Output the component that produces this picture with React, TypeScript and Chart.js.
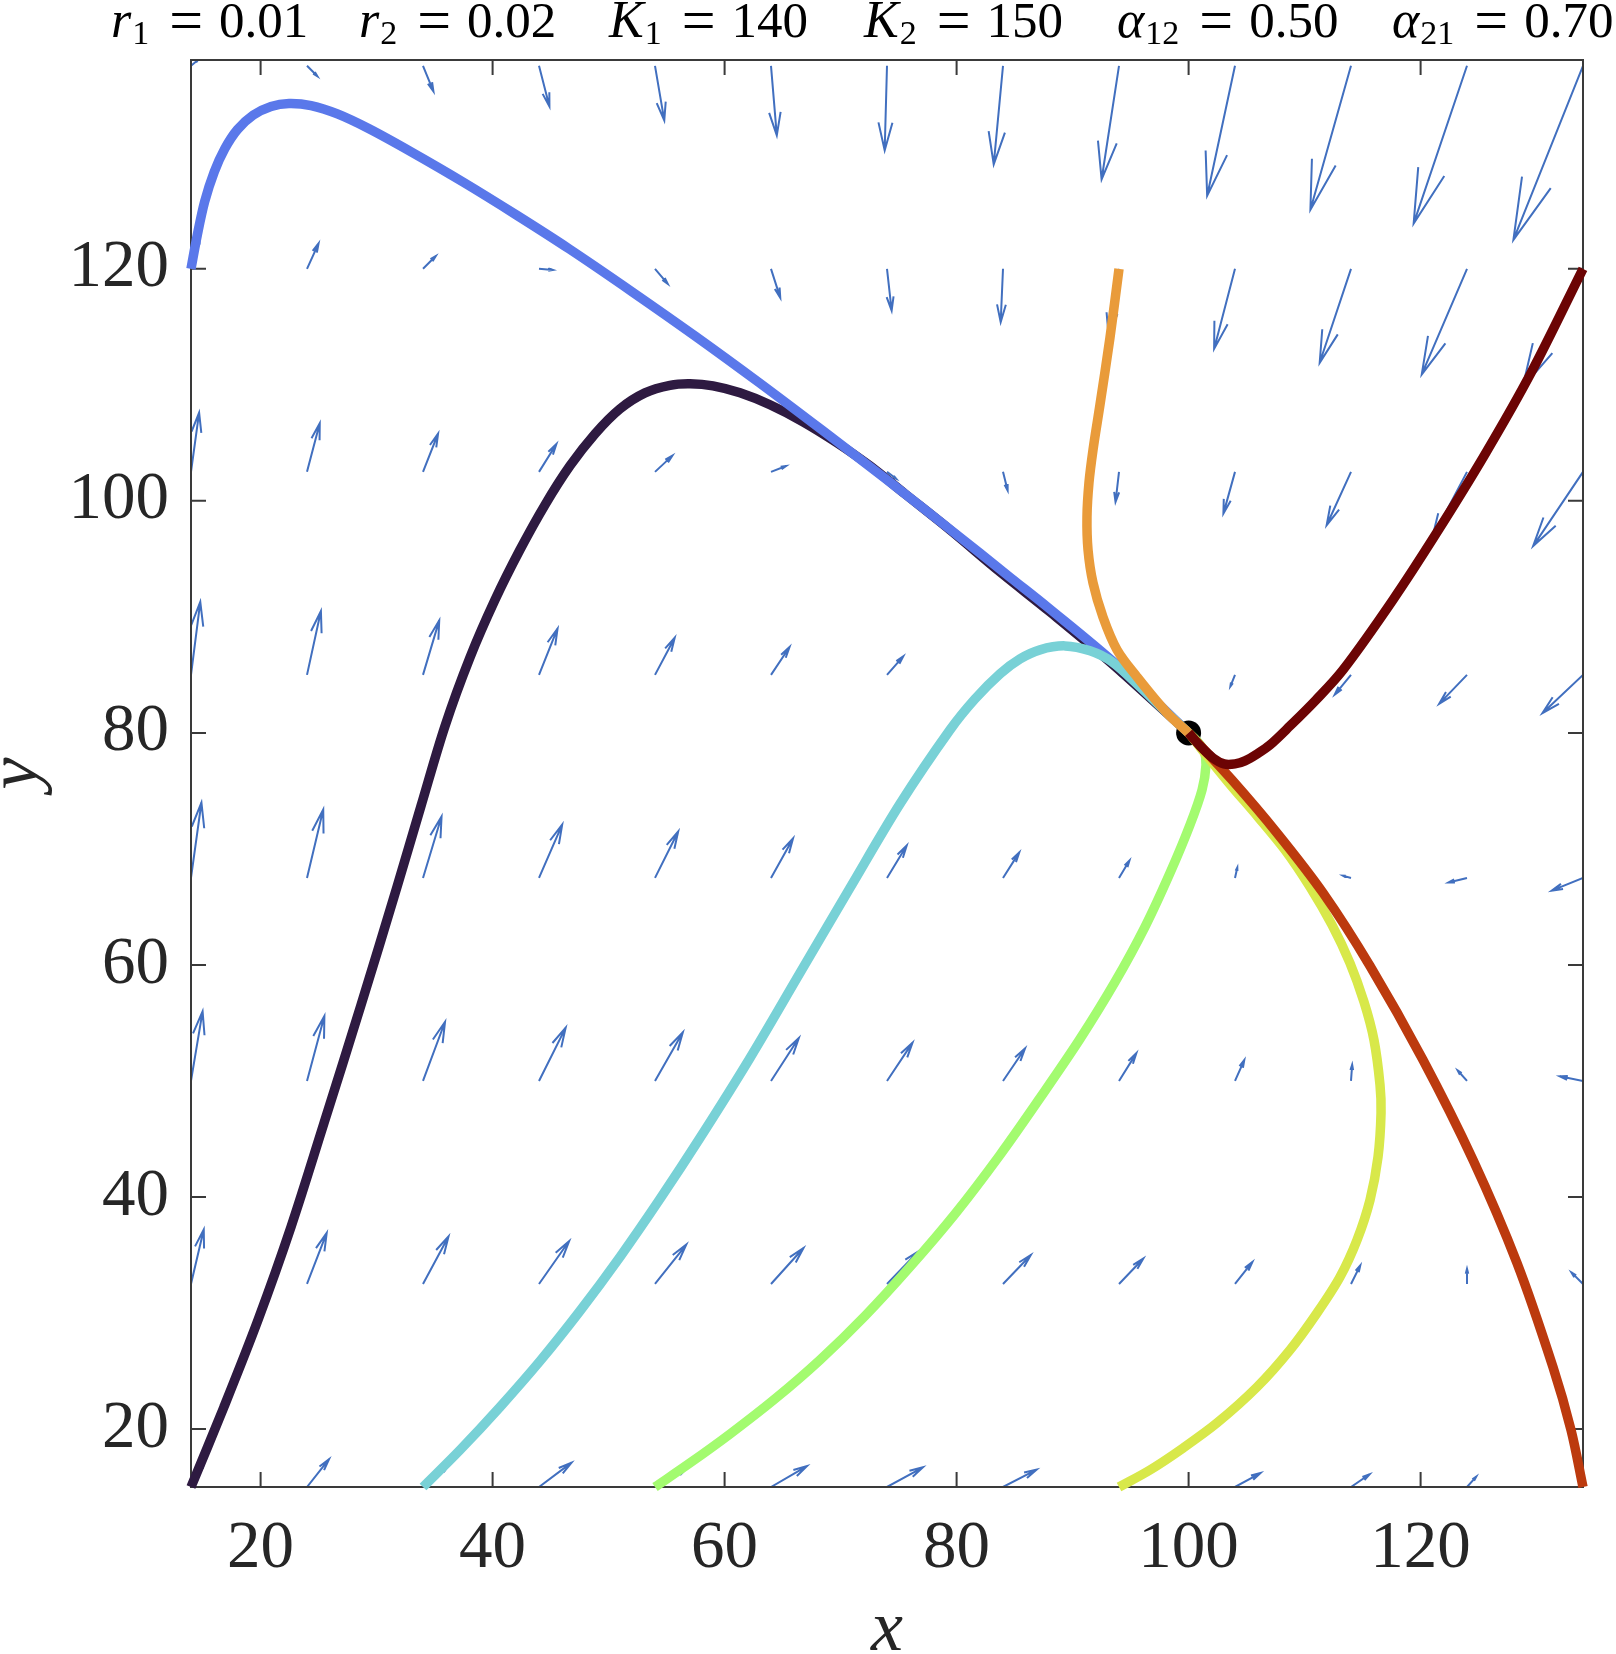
import React, { useRef, useEffect } from 'react'
import Chart from 'chart.js/auto'

const FONT = '"Liberation Serif", serif'

const xTicks = [20, 40, 60, 80, 100, 120]
const yTicks = [20, 40, 60, 80, 100, 120]

// quiver grid, bottom row first
const quiverX = [14, 24, 34, 44, 54, 64, 74, 84, 94, 104, 114, 124, 134]
const quiverY = [15, 32.5, 50, 67.5, 85, 102.5, 120, 137.5]
const quiverU = [
  [1.2, 1.9, 2.4, 2.8, 3, 3.1, 3.1, 2.9, 2.6, 2.2, 1.6, 0.8, -0.1],
  [1.1, 1.7, 2.2, 2.6, 2.7, 2.8, 2.7, 2.4, 2.1, 1.5, 0.8, 0, -1],
  [1, 1.5, 1.9, 2.3, 2.4, 2.4, 2.2, 1.9, 1.5, 0.8, 0.1, -0.8, -2],
  [0.9, 1.4, 1.6, 2, 2, 1.9, 1.7, 1.4, 0.9, 0.2, -0.7, -1.6, -2.7],
  [0.8, 1.2, 1.4, 1.6, 1.7, 1.6, 1.4, 0.8, 0.2, -0.4, -1.4, -2.4, -3.5],
  [0.7, 1.1, 1.3, 1.5, 1.5, 1.3, 0.8, 0.4, -0.3, -1, -2.1, -3, -4.3],
  [0.7, 1, 1.1, 1.2, 1.1, 0.8, 0.4, -0.2, -0.9, -1.8, -2.7, -3.9, -5.2],
  [0.6, 0.9, 0.9, 0.9, 0.8, 0.5, -0.2, -0.8, -1.5, -2.4, -3.5, -4.6, -6],
]
const quiverV = [
  [2.5, 2.4, 2.2, 2.1, 1.9, 1.8, 1.7, 1.5, 1.4, 1.2, 1.1, 0.9, 0.8],
  [4.7, 4.4, 4.1, 3.7, 3.4, 3.1, 2.8, 2.5, 2.2, 1.9, 1.6, 1.3, 1],
  [6, 5.6, 5.1, 4.6, 4.2, 3.7, 3.3, 2.8, 2.4, 1.8, 1.4, 0.9, 0.4],
  [6.5, 5.9, 5.3, 4.6, 4, 3.4, 2.8, 2.2, 1.5, 0.9, 0.2, -0.4, -1.1],
  [6.3, 5.5, 4.7, 4, 3.2, 2.4, 1.6, 0.7, -0.1, -1, -1.7, -2.5, -3.3],
  [5.1, 4.2, 3.3, 2.4, 1.4, 0.5, -0.6, -1.6, -2.6, -3.6, -4.6, -5.7, -6.4],
  [3.2, 2.2, 1.1, -0.1, -1.3, -2.5, -3.6, -4.6, -5.7, -6.9, -8.1, -9.1, -10.2],
  [0.5, -0.9, -2.2, -3.5, -4.7, -6, -7.3, -8.5, -9.8, -11.2, -12.4, -13.6, -15],
]

// trajectories
const navyX = [14, 16.84, 19.78, 22.62, 25.47, 28.66, 31.76, 33.83, 35.9, 38.05, 40.21, 42.36, 44.52, 46.67, 48.83, 50.98, 53.14, 55.29, 57.02, 59, 61.33, 63.91, 66.76, 69.69, 72.53, 75.55, 79.43, 83.74, 88.05, 93.22, 100]
const navyY = [15, 21.9, 29.4, 37.41, 46.38, 56.55, 66.72, 73.71, 80.6, 86.5, 91.47, 95.78, 99.66, 103.02, 105.78, 107.93, 109.31, 109.96, 110.09, 109.91, 109.31, 108.28, 106.81, 105, 103.02, 100.6, 97.5, 93.88, 90.43, 86.12, 80]
const blueX = [14, 14.54, 15.18, 16, 16.91, 18, 19.36, 20.9, 22.45, 24.35, 26.62, 29.35, 32.98, 37.52, 42.07, 46.6, 52.06, 57.5, 62.96, 68.4, 73.85, 79.3, 84.75, 87.84, 93.84, 100]
const blueY = [120, 122.9, 125.8, 128.35, 130.35, 132, 133.25, 134, 134.25, 134.07, 133.35, 132.07, 130.08, 127.44, 124.63, 121.72, 118, 114.18, 110.2, 106.1, 101.92, 97.65, 93.3, 90.84, 85.84, 80]
const tealX = [34, 37.19, 40.64, 44.09, 47.53, 50.98, 54.43, 57.88, 62.19, 66.5, 70.81, 75.12, 79.43, 81.59, 83.74, 85.47, 87.19, 89.34, 91.5, 93.4, 95.81, 98.14, 100]
const tealY = [15, 18.19, 21.9, 25.86, 30.17, 34.83, 39.83, 45.09, 51.98, 59.31, 66.64, 73.88, 80.26, 82.93, 85.09, 86.38, 87.16, 87.5, 87.07, 86.12, 83.97, 81.72, 80]
const greenX = [54, 57.02, 60.47, 64.34, 68.22, 72.1, 75.98, 79.86, 83.74, 87.19, 90.64, 93.66, 96.24, 98.4, 100.12, 101.16, 101.5, 101.33, 100.72, 100]
const greenY = [15, 17.07, 19.57, 22.59, 25.95, 29.74, 33.97, 38.53, 43.62, 48.53, 53.62, 58.53, 63.28, 67.93, 72.07, 75.09, 77.24, 78.45, 79.31, 80]
const yellowX = [94, 96.67, 99.52, 102.45, 105.9, 108.74, 111.07, 113.05, 114.52, 115.64, 116.33, 116.59, 116.5, 115.98, 115.12, 113.91, 112.36, 110.47, 108.31, 105.98, 103.4, 100]
const yellowY = [15, 16.47, 18.36, 20.52, 23.62, 26.81, 30, 33.1, 36.29, 39.74, 43.45, 47.24, 49.66, 53.53, 56.81, 60.17, 63.45, 66.72, 69.91, 72.76, 75.78, 80]
const redX = [134, 132.97, 131.41, 128.31, 124.52, 120.21, 115.64, 111.59, 107.62, 103.74, 100]
const redY = [15, 19.91, 25.34, 34.31, 43.19, 51.81, 59.91, 66.21, 71.38, 75.95, 80]
const orangeX = [94, 93.22, 92.36, 91.76, 91.41, 91.24, 91.33, 91.76, 92.62, 93.83, 95.55, 98.14, 100]
const orangeY = [120, 114.05, 108.28, 104.4, 101.55, 98.62, 95.78, 92.93, 89.98, 87.16, 84.83, 81.72, 80]
const maroonX = [134, 129.52, 125.47, 121.33, 117.62, 113.31, 110.98, 108.74, 107.02, 105.9, 104.86, 104, 103.05, 102.1, 100.98, 100]
const maroonY = [120, 111.03, 103.88, 97.16, 91.47, 85.43, 82.84, 80.6, 78.97, 78.19, 77.59, 77.33, 77.33, 77.84, 78.88, 80]

const equilibriumX = [100]
const equilibriumY = [80]

const titleVars = ['r', 'r', 'K', 'K', 'α', 'α']
const titleSubs = ['1', '2', '1', '2', '12', '21']
const titleVals = ['0.01', '0.02', '140', '150', '0.50', '0.70']
const titleLeft = [111, 359, 609, 864, 1117, 1392]

const zip = (xs: number[], ys: number[]) => xs.map((x, i) => ({ x, y: ys[i] }))

const curve = (xs: number[], ys: number[], color: string, order: number) => ({
  data: zip(xs, ys),
  borderColor: color,
  borderWidth: 9.5,
  borderCapStyle: 'butt' as const,
  borderJoinStyle: 'round' as const,
  pointRadius: 0,
  tension: 0.33,
  capBezierPoints: false,
  clip: false as const,
  order,
})

const quiverPlugin = {
  id: 'quiver',
  beforeDatasetsDraw(chart: any) {
    const { ctx, chartArea, scales } = chart
    const alpha = 0.33
    const beta = 0.25
    ctx.save()
    ctx.beginPath()
    ctx.rect(chartArea.left, chartArea.top, chartArea.width, chartArea.height)
    ctx.clip()
    ctx.strokeStyle = '#416fbf'
    ctx.lineWidth = 2
    quiverY.forEach((y, r) => {
      quiverX.forEach((x, c) => {
        const x0 = scales.x.getPixelForValue(x)
        const y0 = scales.y.getPixelForValue(y)
        const x1 = scales.x.getPixelForValue(x + quiverU[r][c])
        const y1 = scales.y.getPixelForValue(y + quiverV[r][c])
        const u = x1 - x0
        const v = y1 - y0
        ctx.beginPath()
        ctx.moveTo(x0, y0)
        ctx.lineTo(x1, y1)
        ctx.moveTo(x1 - alpha * (u + beta * v), y1 - alpha * (v - beta * u))
        ctx.lineTo(x1, y1)
        ctx.lineTo(x1 - alpha * (u - beta * v), y1 - alpha * (v + beta * u))
        ctx.stroke()
      })
    })
    ctx.restore()
  },
}

// box and inward ticks on all four sides
const framePlugin = {
  id: 'frame',
  beforeDatasetsDraw(chart: any) {
    const { ctx, chartArea: a, scales } = chart
    const len = 15
    ctx.save()
    ctx.strokeStyle = '#3a3a3a'
    ctx.lineWidth = 2
    ctx.strokeRect(a.left, a.top, a.width, a.height)
    ctx.beginPath()
    xTicks.forEach((t) => {
      const p = scales.x.getPixelForValue(t)
      ctx.moveTo(p, a.bottom)
      ctx.lineTo(p, a.bottom - len)
      ctx.moveTo(p, a.top)
      ctx.lineTo(p, a.top + len)
    })
    yTicks.forEach((t) => {
      const p = scales.y.getPixelForValue(t)
      ctx.moveTo(a.left, p)
      ctx.lineTo(a.left + len, p)
      ctx.moveTo(a.right, p)
      ctx.lineTo(a.right - len, p)
    })
    ctx.stroke()
    ctx.restore()
  },
}

const paramsPlugin = {
  id: 'params',
  afterDraw(chart: any) {
    const { ctx } = chart
    ctx.save()
    ctx.fillStyle = '#000'
    ctx.textBaseline = 'alphabetic'
    ctx.textAlign = 'left'
    titleVars.forEach((name, i) => {
      let pos = titleLeft[i]
      ctx.font = `italic 52px ${FONT}`
      ctx.fillText(name, pos, 37)
      pos += ctx.measureText(name).width + 1
      ctx.font = `34px ${FONT}`
      ctx.fillText(titleSubs[i], pos, 44)
      pos += ctx.measureText(titleSubs[i]).width + 20
      ctx.font = `60px ${FONT}`
      ctx.fillText('=', pos, 40)
      pos += ctx.measureText('=').width + 16
      ctx.font = `51px ${FONT}`
      ctx.fillText(titleVals[i], pos, 37)
    })
    ctx.restore()
  },
}

export default function App() {
  const chartRef = useRef<HTMLCanvasElement>(null)

  useEffect(() => {
    if (!chartRef.current) return
    const chart = new Chart(chartRef.current, {
      type: 'line',
      data: {
        datasets: [
          {
            data: zip(equilibriumX, equilibriumY),
            showLine: false,
            pointRadius: 12.5,
            pointBackgroundColor: '#000',
            pointBorderWidth: 0,
            clip: false,
            order: 9,
          },
          curve(navyX, navyY, '#2e1a41', 10),
          curve(blueX, blueY, '#5a78ea', 9.5),
          curve(tealX, tealY, '#78d1d6', 8),
          curve(greenX, greenY, '#a3fb6f', 7),
          curve(yellowX, yellowY, '#d8e84a', 6),
          curve(redX, redY, '#bc3a0e', 5),
          curve(orangeX, orangeY, '#e99b3a', 2),
          curve(maroonX, maroonY, '#6c0404', 1),
        ] as any,
      },
      plugins: [quiverPlugin, framePlugin, paramsPlugin],
      options: {
        animation: false,
        responsive: false,
        devicePixelRatio: 1,
        layout: { padding: { top: 60, right: 33, left: 0, bottom: 0 } },
        plugins: { legend: { display: false }, tooltip: { enabled: false } },
        scales: {
          x: {
            type: 'linear',
            min: 14,
            max: 134,
            grid: { display: false },
            border: { display: false },
            afterBuildTicks: (s: any) => {
              s.ticks = xTicks.map((value) => ({ value }))
            },
            afterFit: (s: any) => {
              s.height = 167
            },
            ticks: {
              maxRotation: 0,
              autoSkip: false,
              padding: 14,
              color: '#262626',
              font: { family: FONT, size: 67 },
            },
            title: {
              display: true,
              text: 'x',
              color: '#262626',
              font: { family: FONT, size: 72, style: 'italic' },
              padding: { top: 0, bottom: -20 },
            },
          },
          y: {
            type: 'linear',
            min: 15,
            max: 138,
            grid: { display: false },
            border: { display: false },
            afterBuildTicks: (s: any) => {
              s.ticks = yTicks.map((value) => ({ value }))
            },
            afterFit: (s: any) => {
              s.width = 191
            },
            ticks: {
              autoSkip: false,
              padding: 14,
              color: '#262626',
              font: { family: FONT, size: 67 },
            },
            title: {
              display: true,
              text: 'y',
              color: '#262626',
              font: { family: FONT, size: 72, style: 'italic' },
              padding: { top: -25, bottom: 0 },
            },
          },
        },
      },
    })
    return () => {
      chart.destroy()
    }
  }, [])

  return (
    <div style={{ position: 'absolute', left: 0, top: 0, width: 1616, height: 1654 }}>
      <canvas ref={chartRef} width={1616} height={1654} style={{ display: 'block' }}></canvas>
    </div>
  )
}
